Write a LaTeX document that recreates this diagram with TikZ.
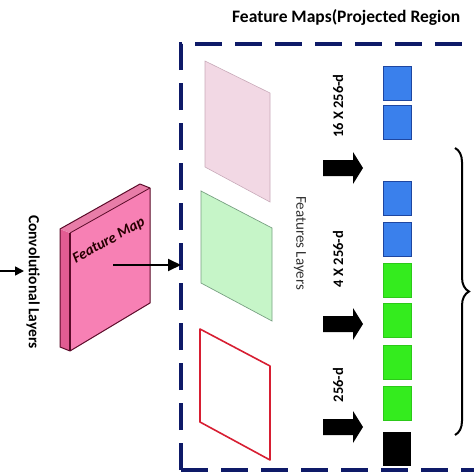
\documentclass[tikz,border=0pt]{standalone}
\usepackage{fontspec}
\setmainfont{Carlito}
\usetikzlibrary{arrows.meta,decorations.pathreplacing,calc}
\definecolor{navy}{RGB}{14,26,104}
\definecolor{slabfront}{RGB}{247,128,180}
\definecolor{slabside}{RGB}{226,92,146}
\definecolor{slabedge}{RGB}{90,10,40}
\definecolor{pinkbg}{RGB}{242,216,228}
\definecolor{pinkedge}{RGB}{200,170,185}
\definecolor{greenbg}{RGB}{198,245,200}
\definecolor{greenedge}{RGB}{120,160,130}
\definecolor{redline}{RGB}{215,30,50}
\definecolor{bluesq}{RGB}{58,128,236}
\definecolor{blueedge}{RGB}{30,70,160}
\definecolor{greensq}{RGB}{52,236,30}
\definecolor{textgray}{RGB}{50,50,50}
\begin{document}
\begin{tikzpicture}[x=1pt,y=-1pt,
  boxline/.style={draw=navy, line width=4pt, dash pattern=on 27pt off 13pt},
  sq/.style={minimum width=28pt, minimum height=34pt, inner sep=0pt, outer sep=0pt},
  bsq/.style={sq, fill=bluesq, draw=blueedge, line width=0.6pt},
  gsq/.style={sq, fill=greensq, draw=greensq!85!black, line width=0.4pt},
  ksq/.style={sq, fill=black},
  dimlabel/.style={rotate=90, font=\bfseries\fontsize{14.5}{16}\selectfont, inner sep=0pt},
  thinarrow/.style={line width=1.6pt, -{Triangle[length=9pt,width=9pt]}},
  mainarrow/.style={line width=2pt, -{Triangle[length=13pt,width=12pt]}},
  fatarrow/.pic={\fill[black] (0,-8) -- (30,-8) -- (30,-16) -- (40,0) -- (30,16) -- (30,8) -- (0,8) -- cycle;},
  bracestyle/.style={decorate, decoration={brace, amplitude=14pt}, line width=2pt}
]
\clip (0,0) rectangle (474,474);

% title
\node[anchor=base west, font=\bfseries\fontsize{17.5}{20}\selectfont, inner sep=0pt] (title) at (232,22) {Feature Maps(Projected Region};

% dashed frame
\draw[boxline] (181,470) -- (181,44) -- (500,44);
\draw[boxline] (181,470) -- (500,470);
\coordinate (frameL) at (181,265);

% convolutional layers
\coordinate (inL) at (0,271);
\coordinate (inR) at (24,271);
\draw[thinarrow] (inL) -- (inR);
\node[rotate=-90, font=\bfseries\fontsize{15.5}{17}\selectfont, inner sep=0pt] (conv) at (33,282) {Convolutional Layers};

% slab
\coordinate (fTL) at (70,233);
\coordinate (fTR) at (150,188);
\coordinate (fBR) at (150,303);
\coordinate (fBL) at (70,351);
\coordinate (bTL) at (60,229);
\coordinate (bTR) at (140,184);
\coordinate (bBL) at (60,347);
\fill[slabside] (bTL) -- (fTL) -- (fBL) -- (bBL) -- cycle;
\fill[slabside!80!white] (bTL) -- (bTR) -- (fTR) -- (fTL) -- cycle;
\fill[slabfront] (fTL) -- (fTR) -- (fBR) -- (fBL) -- cycle;
\draw[slabedge, line width=1pt, line join=round] (bBL) -- (bTL) -- (bTR) -- (fTR) -- (fBR) -- (fBL) -- cycle;
\draw[slabedge, line width=1.6pt] (fTL) -- (fBL);
\draw[slabedge, line width=0.8pt] (fTL) -- (fTR);
\node[rotate=29, font=\bfseries\itshape\fontsize{15}{17}\selectfont, text=black!85!red, inner sep=0pt] (fmap) at (109,241) {Feature Map};
\coordinate (slabout) at (113,265);
\draw[mainarrow] (slabout) -- (frameL);

% feature layers
\coordinate (p1) at (205,61);
\coordinate (p2) at (270,93);
\coordinate (p3) at (270,202);
\coordinate (p4) at (205,167);
\filldraw[fill=pinkbg, draw=pinkedge, line width=0.6pt] (p1) -- (p2) -- (p3) -- (p4) -- cycle;

\coordinate (g1) at (201,191);
\coordinate (g2) at (272,228);
\coordinate (g3) at (272,321);
\coordinate (g4) at (201,283);
\filldraw[fill=greenbg, draw=greenedge, line width=0.7pt] (g1) -- (g2) -- (g3) -- (g4) -- cycle;

\coordinate (r1) at (200,329);
\coordinate (r2) at (270,366);
\coordinate (r3) at (270,460);
\coordinate (r4) at (200,422);
\draw[redline, line width=1.6pt, line join=round] (r1) -- (r2) -- (r3) -- (r4) -- cycle;

\node[rotate=-90, font=\fontsize{15}{17}\selectfont, text=textgray, inner sep=0pt] (flayers) at (300,243) {Features Layers};

% labels
\node[dimlabel] (l16) at (338,106) {16 X 256-d};
\node[dimlabel] (l4) at (338,259) {4 X 256-d};
\node[dimlabel] (l1) at (338,385) {256-d};

% fat arrows
\pic (a1) at (323,168) {fatarrow};
\pic (a2) at (323,324) {fatarrow};
\pic (a3) at (323,427) {fatarrow};

% squares
\node[bsq] (b1) at (397,83) {};
\node[bsq] (b2) at (397,122.5) {};
\node[bsq] (b3) at (397,198.5) {};
\node[bsq] (b4) at (397,239) {};
\node[gsq] (q1) at (397,280) {};
\node[gsq] (q2) at (397,320.5) {};
\node[gsq] (q3) at (397,362.5) {};
\node[gsq] (q4) at (397,403) {};
\node[ksq] (k1) at (397,448.5) {};

% brace
\coordinate (brT) at (455,148);
\coordinate (brB) at (455,435);
\draw[bracestyle] (brT) -- (brB);
\end{tikzpicture}
\end{document}
